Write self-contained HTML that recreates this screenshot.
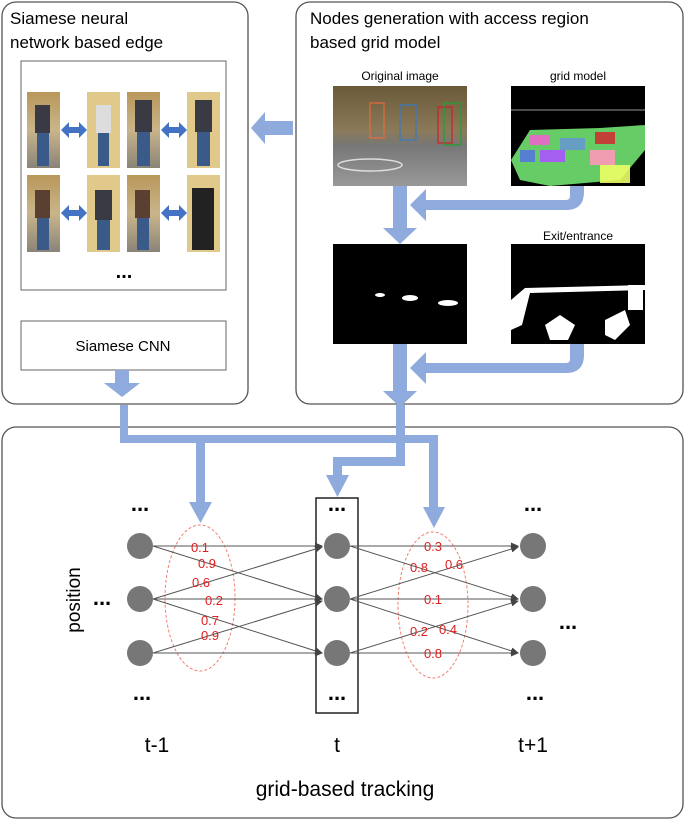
<!DOCTYPE html>
<html><head><style>body{margin:0;background:#fff}svg{display:block;font-family:"Liberation Sans",sans-serif}</style></head><body>
<svg width="685" height="821" viewBox="0 0 685 821" xmlns="http://www.w3.org/2000/svg">
<defs>
<marker id="a" markerWidth="8" markerHeight="8" refX="7" refY="4" orient="auto" markerUnits="userSpaceOnUse"><path d="M0,0.5 L8,4 L0,7.5Z" fill="#444"/></marker>
<linearGradient id="sh" x1="0" y1="0" x2="0" y2="1"><stop offset="0" stop-color="#b9975a"/><stop offset="0.5" stop-color="#c9b58a"/><stop offset="1" stop-color="#8a8478"/></linearGradient>
<linearGradient id="st" x1="0" y1="0" x2="0" y2="1"><stop offset="0" stop-color="#6a5a3a"/><stop offset="0.45" stop-color="#8a7a5a"/><stop offset="0.6" stop-color="#777"/><stop offset="1" stop-color="#999"/></linearGradient>
</defs>
<g fill="none" stroke="#555" stroke-width="1.3">
<rect x="2" y="2" width="246" height="402" rx="14"/>
<rect x="296" y="2" width="387" height="402" rx="14"/>
<rect x="2" y="427" width="681" height="391" rx="14"/>
</g>
<text x="10" y="24" font-size="17">Siamese neural</text>
<text x="10" y="48" font-size="17">network based edge</text>
<text x="310" y="24" font-size="17">Nodes generation with access region</text>
<text x="310" y="48" font-size="17">based grid model</text>
<rect x="21" y="61" width="205" height="229" fill="#fff" stroke="#666"/>
<g>
<rect x="27" y="92" width="33" height="76" fill="url(#sh)"/><rect x="87" y="92" width="33" height="76" fill="#e0c98a"/><rect x="127" y="92" width="33" height="76" fill="url(#sh)"/><rect x="187" y="92" width="33" height="76" fill="#e0c98a"/>
<rect x="27" y="175" width="33" height="77" fill="url(#sh)"/><rect x="87" y="175" width="33" height="77" fill="#e0c98a"/><rect x="127" y="175" width="33" height="77" fill="url(#sh)"/><rect x="187" y="175" width="33" height="77" fill="#e0c98a"/>
<g fill="#3a3a44"><rect x="35" y="105" width="15" height="28"/><rect x="96" y="105" width="15" height="28" fill="#ddd"/><rect x="135" y="100" width="17" height="32"/><rect x="195" y="100" width="17" height="32"/>
<rect x="35" y="190" width="15" height="28" fill="#5a4030"/><rect x="95" y="190" width="17" height="30"/><rect x="135" y="190" width="15" height="28" fill="#5a4030"/><rect x="192" y="188" width="22" height="62" fill="#222"/></g>
<g fill="#3a5a8a"><rect x="37" y="133" width="12" height="33"/><rect x="98" y="133" width="11" height="33"/><rect x="137" y="132" width="13" height="34"/><rect x="197" y="132" width="13" height="34"/><rect x="37" y="218" width="12" height="32"/><rect x="97" y="220" width="13" height="30"/><rect x="137" y="218" width="12" height="32"/></g>
<g fill="#4472c4"><path d="M61,130 l8,-8 v5 h10 v-5 l8,8 l-8,8 v-5 h-10 v5z"/><path d="M161,130 l8,-8 v5 h10 v-5 l8,8 l-8,8 v-5 h-10 v5z"/><path d="M61,213 l8,-8 v5 h10 v-5 l8,8 l-8,8 v-5 h-10 v5z"/><path d="M161,213 l8,-8 v5 h10 v-5 l8,8 l-8,8 v-5 h-10 v5z"/></g>
</g>
<text x="124" y="278" font-size="20" font-weight="bold" text-anchor="middle">...</text>
<rect x="21" y="321" width="205" height="49" fill="#fff" stroke="#666"/>
<text x="123" y="351" font-size="15" text-anchor="middle">Siamese CNN</text>
<text x="400" y="80" font-size="12" text-anchor="middle">Original image</text>
<text x="578" y="80" font-size="12" text-anchor="middle">grid model</text>
<text x="578" y="240" font-size="12" text-anchor="middle">Exit/entrance</text>
<rect x="333" y="86" width="134" height="100" fill="url(#st)"/>
<g fill="none" stroke-width="1.2"><rect x="370" y="103" width="14" height="35" stroke="#e86a3a"/><rect x="400" y="105" width="16" height="35" stroke="#3a7ac4"/><rect x="438" y="107" width="14" height="36" stroke="#d02020"/><rect x="444" y="103" width="17" height="42" stroke="#20a030"/></g>
<ellipse cx="370" cy="165" rx="32" ry="6" fill="none" stroke="#ddd" stroke-width="1.5"/>
<rect x="511" y="86" width="134" height="100" fill="#000"/>
<line x1="511" y1="110" x2="645" y2="110" stroke="#999"/>
<path d="M511,160 L530,130 L600,128 L645,125 L645,150 L620,180 L550,186 L520,180Z" fill="#6c6"/>
<g opacity="0.9"><rect x="530" y="135" width="20" height="10" fill="#e6c"/><rect x="560" y="138" width="25" height="12" fill="#69c"/><rect x="595" y="132" width="20" height="12" fill="#c33"/><rect x="540" y="150" width="25" height="12" fill="#a5f"/><rect x="590" y="150" width="25" height="15" fill="#f9b"/><rect x="600" y="165" width="30" height="18" fill="#ef6"/><rect x="520" y="150" width="15" height="12" fill="#57d"/></g>
<rect x="333" y="244" width="134" height="100" fill="#000"/>
<g fill="#fff"><ellipse cx="380" cy="295" rx="5" ry="2"/><ellipse cx="410" cy="298" rx="8" ry="3"/><ellipse cx="448" cy="303" rx="10" ry="3"/></g>
<rect x="511" y="244" width="134" height="100" fill="#000"/>
<g fill="#fff"><path d="M511,300 L525,288 L645,285 L645,290 L530,293 L522,325 L511,330Z"/><path d="M545,325 L560,315 L575,325 L568,340 L550,340Z"/><path d="M605,320 L625,310 L630,325 L615,340 L605,335Z"/><rect x="628" y="285" width="15" height="25"/></g>
<g fill="#8faadc">
<path d="M293,121 h-28 v-9 l-14,16 l14,16 v-9 h28z"/>
<path d="M393,186 v42 h-10 l17,16 l17,-16 h-10 v-42z"/>
<path d="M570,186 v10 q0,4 -4,4 h-140 v-11 l-16,16 l16,16 v-11 h140 q18,0 18,-18 v-6z"/>
<path d="M570,344 v15 q0,4 -4,4 h-140 v-11 l-16,16 l16,16 v-11 h140 q18,0 18,-18 v-11z"/>
<path d="M393,344 v47 h-10 l17,16 l17,-16 h-10 v-47z"/>
<path d="M115,370 v13 h-11 l18,14 l18,-14 h-11 v-13z"/>
<rect x="120" y="405" width="8" height="38"/>
<rect x="120" y="435" width="318" height="8"/>
<rect x="396" y="405" width="9" height="61"/>
<rect x="333" y="457" width="72" height="9"/>
<path d="M333,457 h9 v18 h7 l-11.5,22 l-11.5,-22 h7z"/>
<path d="M196,443 h9 v59 h7 l-11.5,21 l-11.5,-21 h7z"/>
<path d="M429,435 h9 v72 h7 l-11,21 l-11,-21 h6z"/>
</g>
<rect x="316" y="498" width="42" height="215" fill="none" stroke="#222" stroke-width="1.5"/>
<g fill="none" stroke="#f08070" stroke-dasharray="3,2"><ellipse cx="200" cy="598" rx="35" ry="73"/><ellipse cx="433" cy="605" rx="35" ry="73"/></g>
<g stroke="#555" stroke-width="1" marker-end="url(#a)">
<line x1="153" y1="546" x2="322" y2="546"/><line x1="153" y1="546" x2="322" y2="599"/>
<line x1="153" y1="599" x2="322" y2="547"/><line x1="153" y1="599" x2="322" y2="599"/><line x1="153" y1="599" x2="322" y2="653"/>
<line x1="153" y1="653" x2="322" y2="601"/><line x1="153" y1="653" x2="322" y2="653"/>
<line x1="350" y1="546" x2="518" y2="546"/><line x1="350" y1="546" x2="518" y2="599"/>
<line x1="350" y1="599" x2="518" y2="547"/><line x1="350" y1="599" x2="518" y2="599"/><line x1="350" y1="599" x2="518" y2="653"/>
<line x1="350" y1="653" x2="518" y2="601"/><line x1="350" y1="653" x2="518" y2="653"/>
</g>
<g fill="#777"><circle cx="140" cy="546" r="13"/><circle cx="140" cy="599" r="13"/><circle cx="140" cy="653" r="13"/><circle cx="337" cy="546" r="13"/><circle cx="337" cy="599" r="13"/><circle cx="337" cy="653" r="13"/><circle cx="533" cy="546" r="13"/><circle cx="533" cy="599" r="13"/><circle cx="533" cy="653" r="13"/></g>
<g fill="#e02020" font-size="13" text-anchor="middle">
<text x="200" y="552">0.1</text><text x="207" y="568">0.9</text><text x="201" y="587">0.6</text><text x="214" y="605">0.2</text><text x="210" y="625">0.7</text><text x="210" y="640">0.9</text>
<text x="433" y="551">0.3</text><text x="419" y="572">0.8</text><text x="454" y="569">0.6</text><text x="433" y="604">0.1</text><text x="419" y="636">0.2</text><text x="448" y="634">0.4</text><text x="433" y="658">0.8</text>
</g>
<g font-size="22" font-weight="bold" text-anchor="middle">
<text x="140" y="511">...</text><text x="337" y="511">...</text><text x="533" y="511">...</text>
<text x="142" y="700">...</text><text x="337" y="700">...</text><text x="535" y="700">...</text>
<text x="102" y="605">...</text><text x="568" y="629">...</text>
</g>
<text transform="translate(80,600) rotate(-90)" font-size="19" text-anchor="middle">position</text>
<g font-size="21" text-anchor="middle"><text x="157" y="752">t-1</text><text x="337" y="752">t</text><text x="533" y="752">t+1</text></g>
<text x="345" y="796" font-size="21" text-anchor="middle">grid-based tracking</text>
</svg>
</body></html>
